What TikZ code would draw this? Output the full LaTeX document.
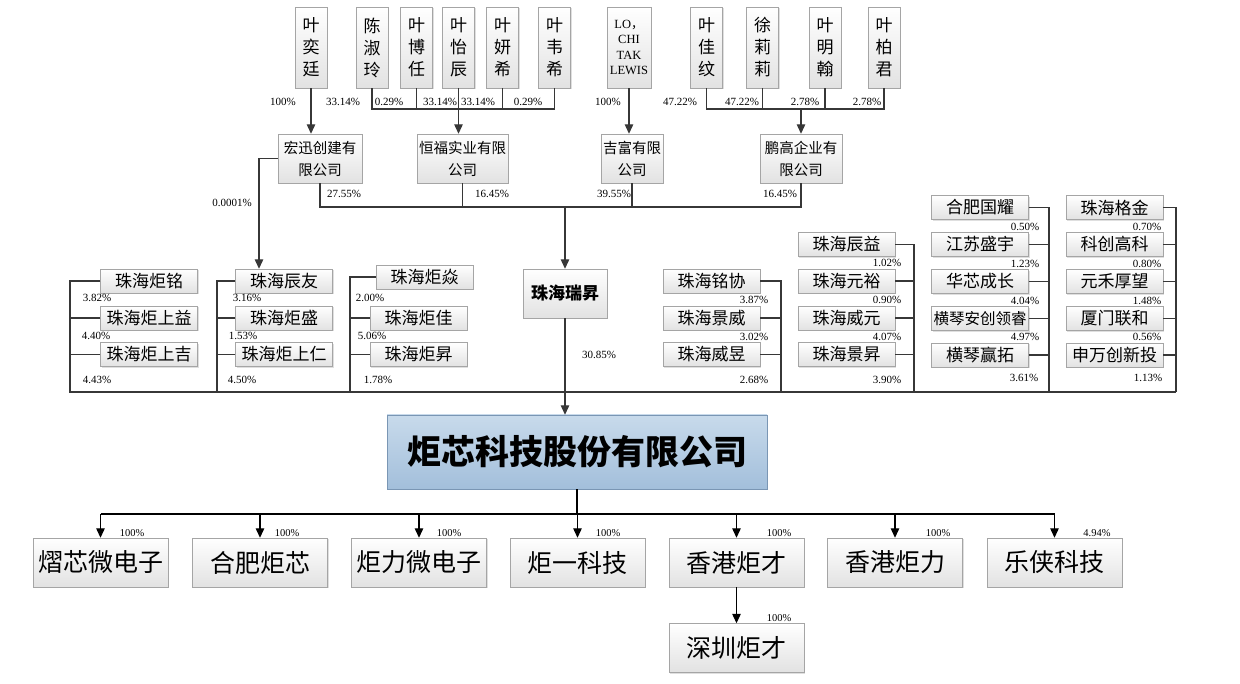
\documentclass[tikz,border=0pt]{standalone}
\usepackage{fontspec}
\setmainfont{Noto Sans CJK SC}
\newfontfamily\pct{Liberation Serif}
\usetikzlibrary{arrows.meta,shadows}

\definecolor{boxline}{RGB}{165,165,165}
\definecolor{boxlow}{RGB}{226,226,226}
\definecolor{maintop}{RGB}{200,218,235}
\definecolor{mainlow}{RGB}{163,191,219}
\definecolor{mainline}{RGB}{122,150,180}
\definecolor{wirec}{RGB}{55,55,55}

\begin{document}
\begin{tikzpicture}[x=1pt, y=-1pt,
    box/.style={draw=boxline, top color=white, bottom color=boxlow, inner sep=0pt, align=center,
        drop shadow={shadow xshift=1.2pt, shadow yshift=-1.2pt, opacity=.25}},
    person/.style={box, minimum width=32pt, minimum height=81pt, font=\fontsize{17}{22}\selectfont},
    holder/.style={box, minimum height=49pt, font=\fontsize{14.5}{22}\selectfont},
    fund/.style={box, minimum width=97pt, minimum height=24pt, font=\fontsize{17}{17}\selectfont},
    sub/.style={box, minimum width=135pt, minimum height=49pt, font=\fontsize{25}{25}\selectfont},
    rate/.style={inner sep=0pt, font=\pct\fontsize{11}{11}\selectfont},
    small/.style={inner sep=0pt, font=\pct\fontsize{10.5}{10.5}\selectfont},
    wire/.style={draw=wirec, line width=1.2pt},
    arr/.style={wire, -{Triangle[length=9.5pt, width=8.5pt]}}]

    \useasboundingbox (0,0) rectangle (1240,684);

    % natural persons
    \node[person] (yyt) at (311,47.5) {叶\\奕\\廷};
    \node[person] (csl) at (372,47.5) {陈\\淑\\玲};
    \node[person] (ybr) at (416.5,47.5) {叶\\博\\任};
    \node[person] (yyc) at (458.5,47.5) {叶\\怡\\辰};
    \node[person] (yyx) at (502.5,47.5) {叶\\妍\\希};
    \node[person] (ywx) at (554.5,47.5) {叶\\韦\\希};
    \node[person, minimum width=44pt, font=\pct\fontsize{12.5}{15.5}\selectfont] (lo) at (629,47.5) {LO{\normalfont ，}\\CHI\\TAK\\LEWIS};
    \node[person] (yjw) at (706.5,47.5) {叶\\佳\\纹};
    \node[person] (xll) at (762.5,47.5) {徐\\莉\\莉};
    \node[person] (ymh) at (825,47.5) {叶\\明\\翰};
    \node[person] (ybj) at (884,47.5) {叶\\柏\\君};

    % holding companies
    \node[holder, minimum width=84pt] (hx) at (320,158.5) {宏迅创建有\\限公司};
    \node[holder, minimum width=91pt] (hf) at (462.5,158.5) {恒福实业有限\\公司};
    \node[holder, minimum width=62pt] (jf) at (632,158.5) {吉富有限\\公司};
    \node[holder, minimum width=82pt] (pg) at (801,158.5) {鹏高企业有\\限公司};
    \node[holder, minimum width=84pt, font=\fontsize{17}{17}\selectfont\bfseries] (zhrs) at (565,293.5) {珠海瑞昇};

    \coordinate (topbar) at (0,109);
    \coordinate (midbar) at (0,207);

    \draw[arr] (yyt.south) -- (yyt.south |- hx.north);
    \draw[wire] (csl.south) |- (ywx.south |- topbar) -- (ywx.south);
    \draw[wire] (ybr.south) -- (ybr.south |- topbar);
    \draw[wire] (yyx.south) -- (yyx.south |- topbar);
    \draw[arr] (yyc.south) -- (yyc.south |- hf.north);
    \draw[arr] (lo.south) -- (lo.south |- jf.north);
    \draw[wire] (yjw.south) |- (ybj.south |- topbar) -- (ybj.south);
    \draw[wire] (xll.south) -- (xll.south |- topbar);
    \draw[wire] (ymh.south) -- (ymh.south |- topbar);
    \draw[arr] (pg.north |- topbar) -- (pg.north);

    \draw[wire] (hx.south) |- (pg.south |- midbar) -- (pg.south);
    \draw[wire] (hf.south) -- (hf.south |- midbar);
    \draw[wire] (jf.south) -- (jf.south |- midbar);
    \draw[arr] (zhrs.north |- midbar) -- (zhrs.north);

    \node[rate] (r1) at (283,102) {100\%};
    \node[rate] (r2) at (343,102) {33.14\%};
    \node[rate] (r3) at (389,102) {0.29\%};
    \node[rate] (r4) at (440,102) {33.14\%};
    \node[rate] (r5) at (478,102) {33.14\%};
    \node[rate] (r6) at (528,102) {0.29\%};
    \node[rate] (r7) at (608,102) {100\%};
    \node[rate] (r8) at (680,102) {47.22\%};
    \node[rate] (r9) at (742,102) {47.22\%};
    \node[rate] (r10) at (805,102) {2.78\%};
    \node[rate] (r11) at (867,102) {2.78\%};
    \node[rate] (r12) at (344,194) {27.55\%};
    \node[rate] (r13) at (492,194) {16.45\%};
    \node[rate] (r14) at (614,194) {39.55\%};
    \node[rate] (r15) at (780,194) {16.45\%};
    \node[rate] (r16) at (232,203) {0.0001\%};
    \node[rate] (r17) at (599,355) {30.85\%};

    % limited partnerships, left side
    \node[fund] (zhjm) at (149,281) {珠海炬铭};
    \node[fund] (zhjsy) at (149,318) {珠海炬上益};
    \node[fund] (zhjsj) at (149,354.5) {珠海炬上吉};
    \node[fund] (zhcy) at (284,281) {珠海辰友};
    \node[fund] (zhjs) at (284,318) {珠海炬盛};
    \node[fund] (zhjsr) at (284,354.5) {珠海炬上仁};
    \node[fund] (zhjy) at (424.5,277) {珠海炬焱};
    \node[fund] (zhjj) at (418.5,318) {珠海炬佳};
    \node[fund] (zhjsh) at (418.5,354.5) {珠海炬昇};

    % other shareholders, right side
    \node[fund] (zhmx) at (711.5,281) {珠海铭协};
    \node[fund] (zhjw) at (711.5,318) {珠海景威};
    \node[fund] (zhwy) at (711.5,354.5) {珠海威昱};
    \node[fund] (zhcyi) at (846.5,244.5) {珠海辰益};
    \node[fund] (zhyy) at (846.5,281) {珠海元裕};
    \node[fund] (zhwyu) at (846.5,318) {珠海威元};
    \node[fund] (zhjsg) at (846.5,354.5) {珠海景昇};
    \node[fund] (hfgy) at (980,207.5) {合肥国耀};
    \node[fund] (jssy) at (980,244.5) {江苏盛宇};
    \node[fund] (hxcz) at (980,281.5) {华芯成长};
    \node[fund, font=\fontsize{15.5}{15.5}\selectfont] (hqac) at (980,318.5) {横琴安创领睿};
    \node[fund] (hqyt) at (980,355) {横琴赢拓};
    \node[fund] (zhgj) at (1114.5,207.5) {珠海格金};
    \node[fund] (kcgk) at (1114.5,244.5) {科创高科};
    \node[fund] (yhhw) at (1114.5,281.5) {元禾厚望};
    \node[fund] (xmlh) at (1114.5,318.5) {厦门联和};
    \node[fund] (swcx) at (1114.5,355) {申万创新投};

    \coordinate (busA) at (70,392);
    \coordinate (busB) at (217,392);
    \coordinate (busC) at (350,392);
    \coordinate (busD) at (781,392);
    \coordinate (busE) at (914,392);
    \coordinate (busF) at (1049,392);
    \coordinate (busG) at (1176,392);

    \draw[arr] (hx.west) -| ([xshift=-25pt]zhcy.north);

    \draw[wire] (zhjm.west) -| (busA) -- (busG);
    \draw[wire] (zhjsy.west) -- (zhjsy.west -| busA);
    \draw[wire] (zhjsj.west) -- (zhjsj.west -| busA);
    \draw[wire] (zhcy.west) -| (busB);
    \draw[wire] (zhjs.west) -- (zhjs.west -| busB);
    \draw[wire] (zhjsr.west) -- (zhjsr.west -| busB);
    \draw[wire] (zhjy.west) -| (busC);
    \draw[wire] (zhjj.west) -- (zhjj.west -| busC);
    \draw[wire] (zhjsh.west) -- (zhjsh.west -| busC);
    \draw[wire] (zhmx.east) -| (busD);
    \draw[wire] (zhjw.east) -- (zhjw.east -| busD);
    \draw[wire] (zhwy.east) -- (zhwy.east -| busD);
    \draw[wire] (zhcyi.east) -| (busE);
    \draw[wire] (zhyy.east) -- (zhyy.east -| busE);
    \draw[wire] (zhwyu.east) -- (zhwyu.east -| busE);
    \draw[wire] (zhjsg.east) -- (zhjsg.east -| busE);
    \draw[wire] (hfgy.east) -| (busF);
    \draw[wire] (jssy.east) -- (jssy.east -| busF);
    \draw[wire] (hxcz.east) -- (hxcz.east -| busF);
    \draw[wire] (hqac.east) -- (hqac.east -| busF);
    \draw[wire] (hqyt.east) -- (hqyt.east -| busF);
    \draw[wire] (zhgj.east) -| (busG);
    \draw[wire] (kcgk.east) -- (kcgk.east -| busG);
    \draw[wire] (yhhw.east) -- (yhhw.east -| busG);
    \draw[wire] (xmlh.east) -- (xmlh.east -| busG);
    \draw[wire] (swcx.east) -- (swcx.east -| busG);

    \node[rate] (a1) at (97,298) {3.82\%};
    \node[rate] (a2) at (96,336) {4.40\%};
    \node[rate] (a3) at (97,380) {4.43\%};
    \node[rate] (b1) at (247,298) {3.16\%};
    \node[rate] (b2) at (243,336) {1.53\%};
    \node[rate] (b3) at (242,380) {4.50\%};
    \node[rate] (c1) at (370,298) {2.00\%};
    \node[rate] (c2) at (372,336) {5.06\%};
    \node[rate] (c3) at (378,380) {1.78\%};
    \node[rate] (d1) at (754,300) {3.87\%};
    \node[rate] (d2) at (754,337) {3.02\%};
    \node[rate] (d3) at (754,380) {2.68\%};
    \node[rate] (e1) at (887,263) {1.02\%};
    \node[rate] (e2) at (887,300) {0.90\%};
    \node[rate] (e3) at (887,337) {4.07\%};
    \node[rate] (e4) at (887,380) {3.90\%};
    \node[rate] (f1) at (1025,227) {0.50\%};
    \node[rate] (f2) at (1025,264) {1.23\%};
    \node[rate] (f3) at (1025,301) {4.04\%};
    \node[rate] (f4) at (1025,337) {4.97\%};
    \node[rate] (f5) at (1024,378) {3.61\%};
    \node[rate] (g1) at (1147,227) {0.70\%};
    \node[rate] (g2) at (1147,264) {0.80\%};
    \node[rate] (g3) at (1147,301) {1.48\%};
    \node[rate] (g4) at (1147,337) {0.56\%};
    \node[rate] (g5) at (1148,378) {1.13\%};

    % the company
    \node[draw=mainline, top color=maintop, bottom color=mainlow, inner sep=0pt,
        minimum width=380pt, minimum height=74pt, font=\fontsize{34}{34}\selectfont\bfseries,
        drop shadow={shadow xshift=1.2pt, shadow yshift=-1.2pt, opacity=.25}] (main) at (577,452) {炬芯科技股份有限公司};
    \draw[arr] (zhrs.south) -- (zhrs.south |- main.north);

    % subsidiaries
    \node[sub] (s1) at (100.5,562.5) {熠芯微电子};
    \node[sub] (s2) at (260,562.5) {合肥炬芯};
    \node[sub] (s3) at (419,562.5) {炬力微电子};
    \node[sub] (s4) at (577.5,562.5) {炬一科技};
    \node[sub] (s5) at (736.5,562.5) {香港炬才};
    \node[sub] (s6) at (895,562.5) {香港炬力};
    \node[sub] (s7) at (1054.5,562.5) {乐侠科技};
    \node[sub] (s8) at (736.5,648) {深圳炬才};

    \coordinate (subbar) at (0,514);
    \draw[wire, draw=black] (main.south) -- (main.south |- subbar);
    \draw[wire, draw=black] (s1.north |- subbar) -- (s7.north |- subbar);
    \draw[arr, draw=black] (s1.north |- subbar) -- (s1.north);
    \draw[arr, draw=black] (s2.north |- subbar) -- (s2.north);
    \draw[arr, draw=black] (s3.north |- subbar) -- (s3.north);
    \draw[arr, draw=black] (s4.north |- subbar) -- (s4.north);
    \draw[arr, draw=black] (s5.north |- subbar) -- (s5.north);
    \draw[arr, draw=black] (s6.north |- subbar) -- (s6.north);
    \draw[arr, draw=black] (s7.north |- subbar) -- (s7.north);
    \draw[arr, draw=black] (s5.south) -- (s8.north);

    \node[small] (q1) at (132,533) {100\%};
    \node[small] (q2) at (287,533) {100\%};
    \node[small] (q3) at (449,533) {100\%};
    \node[small] (q4) at (608,533) {100\%};
    \node[small] (q5) at (779,533) {100\%};
    \node[small] (q6) at (938,533) {100\%};
    \node[small] (q7) at (1097,533) {4.94\%};
    \node[small] (q8) at (779,618) {100\%};

\end{tikzpicture}
\end{document}
